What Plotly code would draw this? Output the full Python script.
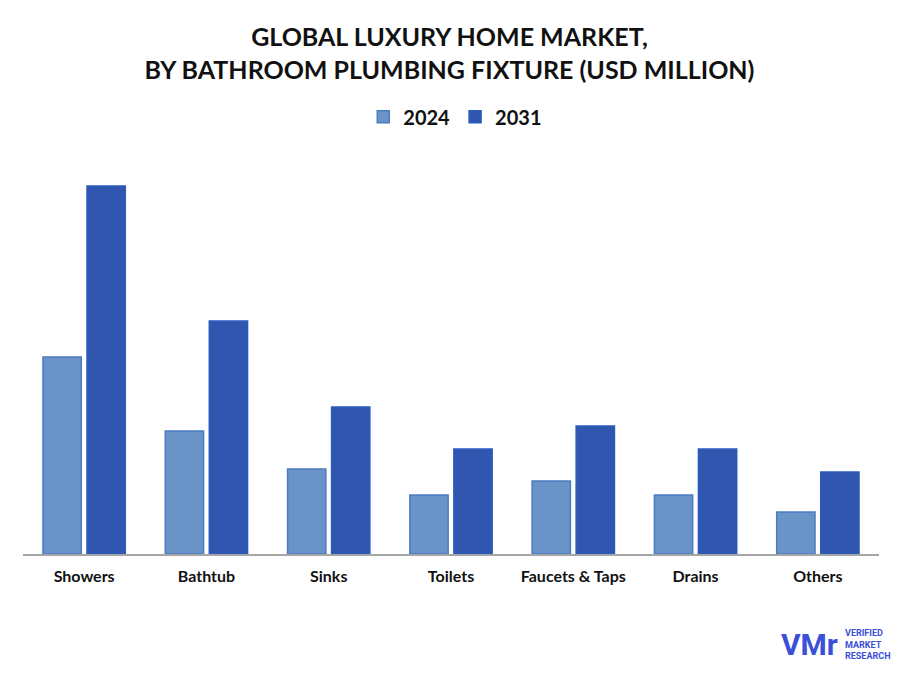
import plotly.graph_objects as go

# Market size by bathroom plumbing fixture (USD million)
categories = ['Showers', 'Bathtub', 'Sinks', 'Toilets', 'Faucets & Taps', 'Drains', 'Others']
values_2024 = [19.7, 12.3, 8.5, 5.9, 7.3, 5.9, 4.2]
values_2031 = [36.8, 23.3, 14.7, 10.5, 12.8, 10.5, 8.2]

fig = go.Figure()
fig.add_trace(go.Bar(x=categories, y=values_2024, name='<b>2024</b>',
                     marker=dict(color='#6a93c8', line=dict(color='#4a7cc2', width=1.5))))
fig.add_trace(go.Bar(x=categories, y=values_2031, name='<b>2031</b>',
                     marker=dict(color='#3056b0', line=dict(color='#2a5cbf', width=1.5))))

fig.update_layout(
    width=901, height=680,
    paper_bgcolor='white', plot_bgcolor='white',
    font=dict(family='Lato, Noto Sans, sans-serif', color='#111111'),
    title=dict(text='<b>GLOBAL LUXURY HOME MARKET,<br>BY BATHROOM PLUMBING FIXTURE (USD MILLION)</b>',
               x=0.49, xanchor='center', y=0.944, yanchor='top',
               font=dict(size=25, color='#111111')),
    legend=dict(orientation='h', x=0.505, xanchor='center', y=1.093, yanchor='middle',
                font=dict(size=20, color='#111111'), itemwidth=30, traceorder='normal'),
    barmode='group', bargap=0.28, bargroupgap=0.13,
    margin=dict(l=15, r=30, t=146, b=134),
    showlegend=True,
)
fig.update_xaxes(showline=True, linecolor='#a6a6a6', linewidth=2, ticks='',
                 tickfont=dict(size=16, color='#111111'), showgrid=False,
                 ticklabelstandoff=7)
fig.update_yaxes(range=[0, 40], visible=False, showgrid=False)

# Tick labels in bold
fig.update_xaxes(tickmode='array', tickvals=categories,
                 ticktext=['<b>%s</b>' % c for c in categories])

# Logo
fig.add_annotation(x=0.958, y=-0.225, xref='paper', yref='paper', showarrow=False,
                   text='<b>VERIFIED<br>MARKET<br>RESEARCH</b>', align='left',
                   font=dict(size=9, color='#3b4fd8', family='Roboto'), xanchor='left',
                   yanchor='middle')
fig.add_annotation(x=0.955, y=-0.225, xref='paper', yref='paper', showarrow=False,
                   text='<b>VMr</b>', font=dict(size=30, color='#3b4fd8', family='Roboto'),
                   xanchor='right', yanchor='middle')

fig.write_html('out.html')
